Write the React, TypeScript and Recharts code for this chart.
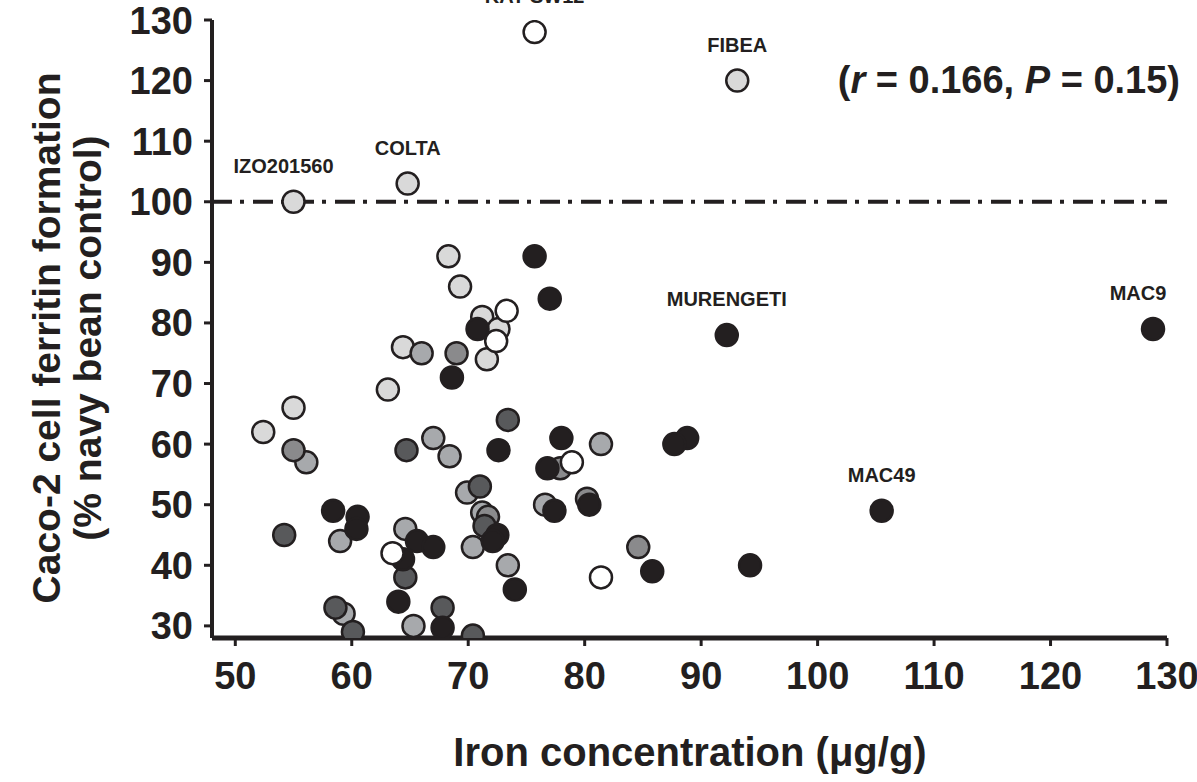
import { ReferenceDot, ReferenceLine, Scatter, ScatterChart, XAxis, YAxis } from "recharts";

type Pt = { x: number; y: number; name?: string };

// one array per grey level of the dots
const black: Pt[] = [
  { x: 75.7, y: 91 }, { x: 77, y: 84 }, { x: 70.8, y: 79 }, { x: 68.6, y: 71 }, { x: 72.6, y: 59 },
  { x: 76.8, y: 56 }, { x: 58.4, y: 49 }, { x: 60.5, y: 48 }, { x: 60.4, y: 46 }, { x: 65.6, y: 44 },
  { x: 67, y: 43 }, { x: 64.4, y: 41 }, { x: 64, y: 34 }, { x: 67.8, y: 29.7 }, { x: 72.5, y: 45 },
  { x: 72.1, y: 44 }, { x: 74, y: 36 }, { x: 78, y: 61 }, { x: 88.8, y: 61 }, { x: 87.7, y: 60 },
  { x: 77.4, y: 49 }, { x: 80.4, y: 50 }, { x: 85.8, y: 39 }, { x: 94.2, y: 40 },
  { x: 92.2, y: 78, name: "MURENGETI" }, { x: 128.8, y: 79, name: "MAC9" }, { x: 105.5, y: 49, name: "MAC49" },
];
const darkGrey: Pt[] = [
  { x: 73.4, y: 64 }, { x: 64.7, y: 59 }, { x: 71, y: 53 }, { x: 71.4, y: 46.5 }, { x: 54.2, y: 45 },
  { x: 64.6, y: 38 }, { x: 58.6, y: 33 }, { x: 60.1, y: 29 }, { x: 67.8, y: 33 }, { x: 70.4, y: 28.4 },
];
const midGrey: Pt[] = [
  { x: 69, y: 75 }, { x: 55, y: 59 }, { x: 71.7, y: 48 }, { x: 77.9, y: 56 }, { x: 80.2, y: 51 }, { x: 84.6, y: 43 },
];
const paleGrey: Pt[] = [
  { x: 66, y: 75 }, { x: 56.1, y: 57 }, { x: 67, y: 61 }, { x: 68.4, y: 58 }, { x: 69.9, y: 52 },
  { x: 71.2, y: 48.7 }, { x: 70.4, y: 43 }, { x: 73.4, y: 40 }, { x: 59, y: 44 }, { x: 64.6, y: 46 },
  { x: 59.3, y: 32 }, { x: 65.3, y: 30 }, { x: 81.4, y: 60 }, { x: 76.6, y: 50 },
];
const lightGrey: Pt[] = [
  { x: 68.3, y: 91 }, { x: 69.3, y: 86 }, { x: 71.2, y: 81 }, { x: 72.6, y: 79 }, { x: 71.6, y: 74 },
  { x: 64.4, y: 76 }, { x: 63.1, y: 69 }, { x: 55, y: 66 }, { x: 52.4, y: 62 },
  { x: 55, y: 100, name: "IZO201560" }, { x: 64.8, y: 103, name: "COLTA" }, { x: 93.1, y: 120, name: "FIBEA" },
];
const white: Pt[] = [
  { x: 73.3, y: 82 }, { x: 72.4, y: 77 }, { x: 63.5, y: 42 }, { x: 78.9, y: 57 }, { x: 81.4, y: 38 },
  { x: 75.7, y: 128, name: "KAT SW12" },
];

const xTicks = [50, 60, 70, 80, 90, 100, 110, 120, 130];
const yTicks = [30, 40, 50, 60, 70, 80, 90, 100, 110, 120, 130];

const INK = "#231f20";
const SANS = '"Liberation Sans", Arial, Helvetica, sans-serif';

const groups = [
  { data: lightGrey, fill: "#d9d9d9" },
  { data: paleGrey, fill: "#a7a9ac" },
  { data: midGrey, fill: "#8a8a8c" },
  { data: darkGrey, fill: "#58595b" },
  { data: black, fill: INK },
  { data: white, fill: "#ffffff" },
];

// a few labels sit left of their dot in the original
const labelShift: Record<string, number> = { IZO201560: -10, MAC9: -15 };

const dot = (fill: string) => (p: any) => (
  <circle cx={p.cx} cy={p.cy} r={11} fill={fill} stroke={INK} strokeWidth={2.5} />
);

export default function App() {
  const named = groups.flatMap((g) => g.data.filter((d) => d.name));
  const tick = { fill: INK, fontSize: 38, fontWeight: 700, fontFamily: SANS };
  return (
    <div style={{ position: "absolute", left: 0, top: 0, width: 1197, height: 782, background: "#fff" }}>
      <ScatterChart width={1197} height={782} margin={{ top: 20, right: 30, left: 0, bottom: 84 }}>
        <XAxis
          type="number"
          dataKey="x"
          domain={[48, 130]}
          ticks={xTicks}
          interval={0}
          allowDataOverflow
          height={60}
          tick={tick}
          tickSize={8}
          tickMargin={16}
          axisLine={{ stroke: INK, strokeWidth: 5 }}
          tickLine={{ stroke: INK, strokeWidth: 3 }}
        />
        <YAxis
          type="number"
          dataKey="y"
          domain={[28, 130]}
          ticks={yTicks}
          interval={0}
          allowDataOverflow
          width={212}
          tick={tick}
          tickSize={8}
          tickMargin={11}
          axisLine={{ stroke: INK, strokeWidth: 4 }}
          tickLine={{ stroke: INK, strokeWidth: 3 }}
        />
        <ReferenceLine y={100} stroke={INK} strokeWidth={4} strokeDasharray="20 8 4 9" />
        {groups.map((g, i) => (
          <Scatter key={i} data={g.data} shape={dot(g.fill)} isAnimationActive={false} />
        ))}
        {named.map((d) => (
          <ReferenceDot
            key={d.name}
            x={d.x}
            y={d.y}
            r={0}
            ifOverflow="visible"
            label={(p: any) => (
              <text
                x={p.viewBox.x + (labelShift[d.name!] ?? 0)}
                y={p.viewBox.y - 29}
                textAnchor="middle"
                fontFamily={SANS}
                fontWeight={700}
                fontSize={20}
                fill={INK}
              >
                {d.name}
              </text>
            )}
          />
        ))}
      </ScatterChart>
      <div
        style={{
          position: "absolute", right: 17, top: 58, fontFamily: SANS, fontWeight: 700,
          fontSize: 38, color: INK, whiteSpace: "nowrap", lineHeight: "44px",
        }}
      >
        (<i>r</i> = 0.166, <i>P</i> = 0.15)
      </div>
      <div
        style={{
          position: "absolute", left: 690, top: 752, transform: "translate(-50%, -50%)",
          fontFamily: SANS, fontWeight: 700, fontSize: 40, color: INK, whiteSpace: "nowrap",
        }}
      >
        Iron concentration (μg/g)
      </div>
      <div
        style={{
          position: "absolute", left: 67, top: 338, transform: "translate(-50%, -50%) rotate(-90deg)",
          fontFamily: SANS, fontWeight: 700, fontSize: 39, color: INK, whiteSpace: "nowrap",
          textAlign: "center", lineHeight: "41px",
        }}
      >
        Caco-2 cell ferritin formation
        <br />
        (% navy bean control)
      </div>
    </div>
  );
}
